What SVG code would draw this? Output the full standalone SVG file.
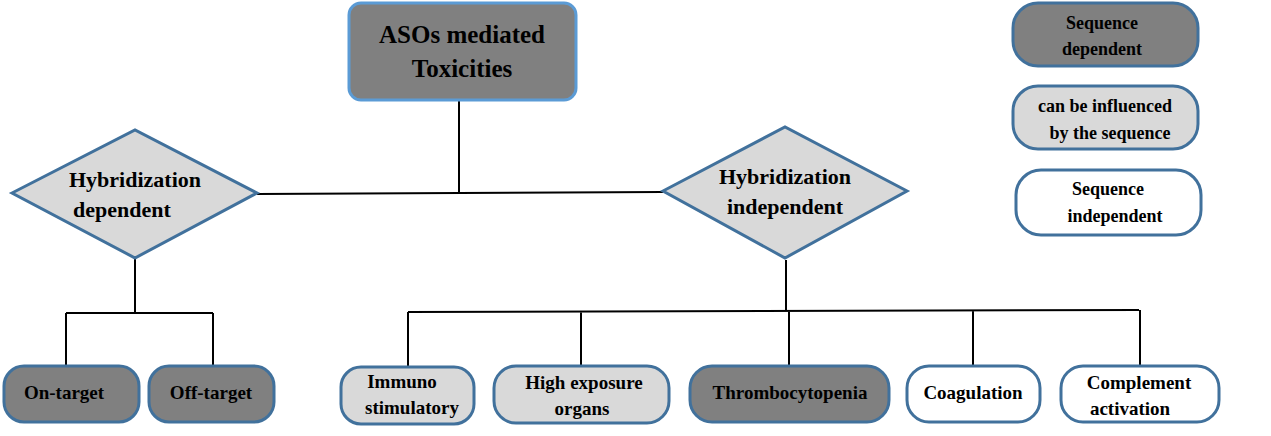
<svg xmlns="http://www.w3.org/2000/svg" width="1271" height="436" viewBox="0 0 1271 436">
<style>
text{font-family:"Liberation Serif","DejaVu Serif",serif;font-weight:bold;fill:#000;text-anchor:middle}
.n{stroke:#41719c;stroke-width:3}
.d{fill:#808080}.l{fill:#d9d9d9}.w{fill:#fff}
.c{stroke:#000;stroke-width:2;fill:none}
.b{font-size:19px}
</style>
<rect width="1271" height="436" fill="#fff"/>
<g id="connectors">
<path class="c" d="M459,100V192M257,194L663,192M135,258V312M66,313H213M66,313V366M213,313V366M786,260V311M408,312L1139,310M408,312V368M581,312V366M789,311V366M973,311V366M1140,310V366"/>
</g>
<g id="root"><rect class="n d" x="349" y="3" width="227" height="97" rx="12" style="stroke:#5b9bd5"/><text x="462" y="43" font-size="25">ASOs mediated</text><text x="462" y="77" font-size="25">Toxicities</text></g>
<g id="hd"><polygon class="n l" points="12,193 135,130 257,193 135,258"/><text x="135" y="187" font-size="22">Hybridization</text><text x="122" y="217" font-size="22">dependent</text></g>
<g id="hi"><polygon class="n l" points="663,191 785,127 907,191 785,258"/><text x="785" y="184" font-size="22">Hybridization</text><text x="785" y="214" font-size="22">independent</text></g>
<g id="on"><rect class="n d" x="4" y="366" width="135" height="56" rx="20"/><text x="64" y="399" class="b">On-target</text></g>
<g id="off"><rect class="n d" x="149" y="366" width="125" height="56" rx="20"/><text x="211" y="399" class="b">Off-target</text></g>
<g id="immuno"><rect class="n l" x="341" y="367" width="133" height="57" rx="20"/><text x="402" y="388" class="b">Immuno</text><text x="412" y="414" class="b">stimulatory</text></g>
<g id="high"><rect class="n l" x="494" y="366" width="175" height="57" rx="22"/><text x="584" y="389" class="b">High exposure</text><text x="582" y="415" class="b">organs</text></g>
<g id="thromb"><rect class="n d" x="690" y="366" width="199" height="56" rx="22"/><text x="790" y="399" class="b">Thrombocytopenia</text></g>
<g id="coag"><rect class="n w" x="907" y="366" width="133" height="56" rx="22"/><text x="973" y="399" class="b">Coagulation</text></g>
<g id="compl"><rect class="n w" x="1061" y="366" width="158" height="56" rx="22"/><text x="1139" y="389" class="b">Complement</text><text x="1130" y="415" class="b">activation</text></g>
<g id="leg1"><rect class="n d" x="1013" y="3" width="185" height="63" rx="25"/><text x="1102" y="29" font-size="18">Sequence</text><text x="1102" y="55" font-size="18">dependent</text></g>
<g id="leg2"><rect class="n l" x="1013" y="86" width="185" height="63" rx="25"/><text x="1105" y="112" font-size="18">can be influenced</text><text x="1110" y="139" font-size="18">by the sequence</text></g>
<g id="leg3"><rect class="n w" x="1016" y="170" width="185" height="65" rx="25"/><text x="1108" y="195" font-size="18">Sequence</text><text x="1115" y="222" font-size="18">independent</text></g>
</svg>
